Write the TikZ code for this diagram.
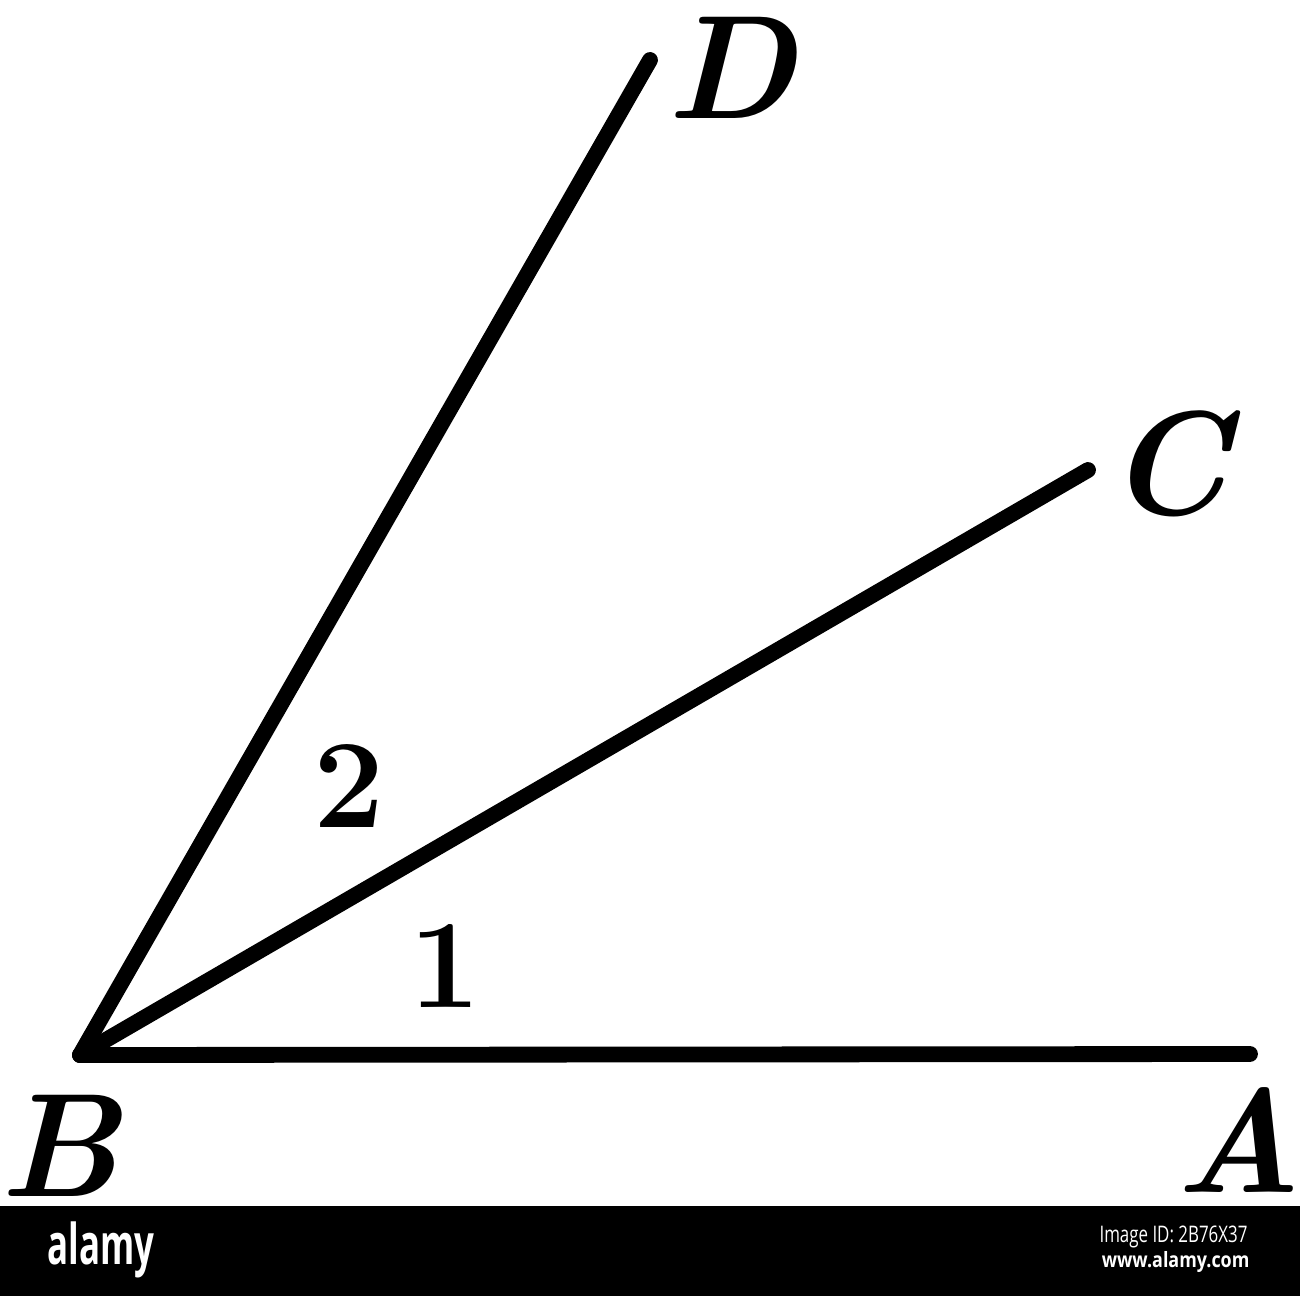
\documentclass[tikz,border=0pt]{standalone}
\usepackage{fontspec}
\newfontfamily\wmfont{Open Sans}
\tikzset{
  ray/.style={line width=4.5pt, line cap=round, line join=round, black},
  ptlabel/.style={inner sep=0pt, font=\fontsize{42}{42}\selectfont\bfseries\itshape},
  numlabel/.style={inner sep=0pt, font=\fontsize{36}{36}\selectfont\bfseries},
  wm/.style={inner sep=0pt, text=white, transform shape}
}
\begin{document}
\begin{tikzpicture}
\useasboundingbox (0,0) rectangle (13,12.96);
\fill[white] (0,0) rectangle (13,12.96);
% rays
\coordinate (B) at (0.80,2.41);
\coordinate (A) at (12.50,2.42);
\coordinate (C) at (10.88,8.26);
\coordinate (D) at (6.50,12.36);
\draw[ray] (B) -- (A);
\draw[ray] (B) -- (C);
\draw[ray] (B) -- (D);
% labels
\node[ptlabel] (lD) at (7.31,12.28) {D};
\node[ptlabel] (lC) at (11.68,8.32) {C};
\node[ptlabel] (lB) at (0.60,1.50) {B};
\node[ptlabel] (lA) at (12.38,1.56) {A};
\node[numlabel] (n2) at (3.49,5.10) {2};
\node[numlabel] (n1) at (4.45,3.30) {1};
% watermark bar
\fill[black] (0,0) rectangle (13,0.90);
\node[wm, font=\wmfont\fontsize{16}{16}\selectfont\bfseries, xscale=0.62] (wa) at (1.01,0.46) {alamy};
\node[wm, anchor=east, font=\wmfont\fontsize{6.5}{6.5}\selectfont, xscale=0.74] (wi) at (12.48,0.59) {Image ID: 2B76X37};
\node[wm, anchor=east, font=\wmfont\fontsize{6}{6}\selectfont\bfseries, xscale=0.85] (ww) at (12.50,0.34) {www.alamy.com};
\end{tikzpicture}
\end{document}
